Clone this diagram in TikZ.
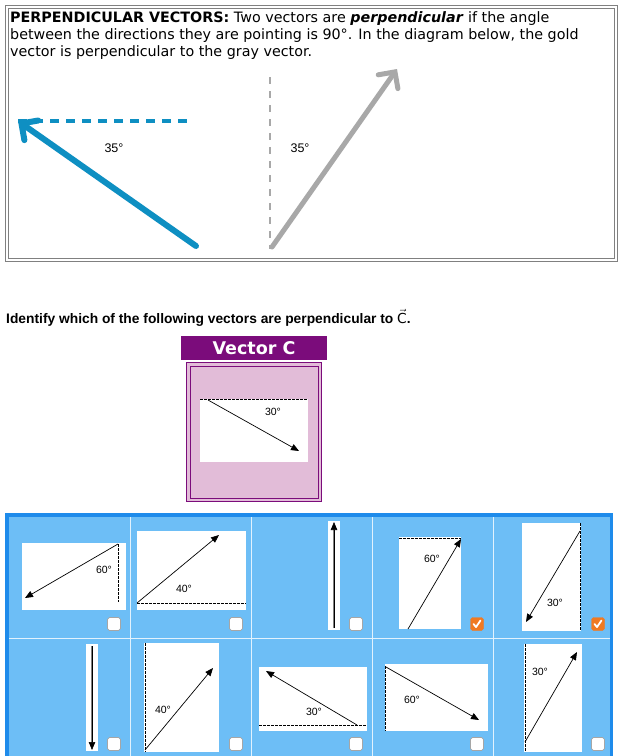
\documentclass[tikz,border=0pt]{standalone}
\usepackage{fontspec}
\setmainfont{DejaVu Sans}
\newfontfamily\arial{Liberation Sans}
\usetikzlibrary{arrows.meta,calc}
\definecolor{vblue}{HTML}{0E8FC2}
\definecolor{vgray}{HTML}{A8A8A8}
\definecolor{vpurple}{HTML}{7B0C7B}
\definecolor{vpink}{HTML}{E2BCD8}
\definecolor{gridfill}{HTML}{6DBEF6}
\definecolor{gridborder}{HTML}{1E8BEB}
\definecolor{chk}{HTML}{F07A22}
\tikzset{
  vec/.style={line width=0.7pt,-{Triangle[length=8pt,width=6.5pt]}},
  guide/.style={line width=0.6pt,dash pattern=on 2.5pt off 1.5pt},
  lab/.style={font=\arial\fontsize{10.5}{12}\selectfont,inner sep=0pt},
  cb/.style={draw=gray!70,fill=white,rounded corners=1.8pt,minimum size=13pt,inner sep=0pt,line width=0.7pt},
  cbon/.style={fill=chk,draw=chk,rounded corners=1.8pt,minimum size=13pt,inner sep=0pt},
}
\newcommand{\chkmark}[1]{\draw[white,line width=1.8pt,line cap=round,line join=round] ($(#1)+(-3.5,0)$) -- ($(#1)+(-1,3)$) -- ($(#1)+(3.5,-3.5)$);}
\begin{document}
\begin{tikzpicture}[x=1pt,y=-1pt]
\useasboundingbox (0,0) rectangle (623,756);
\fill[white] (0,0) rectangle (623,756);
% top box
\draw[gray,line width=0.8pt] (5,5) rectangle (617,261);
\draw[gray,line width=0.8pt] (8,8) rectangle (614,258);
\node[anchor=north west,inner sep=0pt,align=left,font=\fontsize{14.3}{17}\selectfont] (intro) at (10,11)
 {\textbf{PERPENDICULAR VECTORS:} Two vectors are \textbf{\textit{perpendicular}} if the angle\\
  between the directions they are pointing is 90°. In the diagram below, the gold\\
  vector is perpendicular to the gray vector.};
\coordinate (bt) at (196,246); \coordinate (bh) at (18,121);
\draw[vblue,line width=3.5pt,dash pattern=on 9pt off 7pt] (bh) -- (188,121);
\draw[vblue,line width=6pt,line cap=round,-{Straight Barb[length=12pt,width=24pt,line cap=round]}] (bt) -- (bh);
\node[lab,font=\arial\fontsize{12.5}{14}\selectfont] (b35) at (114,148) {35°};
\draw[vgray,line width=2.5pt,dash pattern=on 7pt off 7pt] (270,77) -- (270,249);
\draw[vgray,line width=5pt,line cap=round,-{Straight Barb[length=12pt,width=24pt,line cap=round]}] (272,247) -- (397,69);
\node[lab,font=\arial\fontsize{12.5}{14}\selectfont] (g35) at (300,148) {35°};
% question
\node[anchor=west,inner sep=0pt,font=\arial\bfseries\fontsize{13.8}{16}\selectfont] (q) at (6,318)
 {Identify which of the following vectors are perpendicular to $\vec{\mathrm{C}}$.};
% vector C
\fill[vpurple] (181,336) rectangle (327,360);
\node[text=white,font=\bfseries\fontsize{17.5}{20}\selectfont] (vc) at (254,348) {Vector C};
\fill[vpink] (186,362) rectangle (322,502);
\draw[vpurple,line width=1.2pt] (186.6,362.6) rectangle (321.4,501.4);
\draw[vpurple,line width=0.9pt] (190,366) rectangle (318,498);
\fill[white] (200,399) rectangle (308,462);
\draw[guide] (200,399) -- (308,399);
\draw[vec] (208,400) -- (299,451);
\node[lab] (c30) at (273,412) {30°};
% grid
\fill[gridborder] (5,513) rectangle (613,756);
\fill[gridfill] (9,517) rectangle (610,756);
\foreach \x in {130,251,372,493} \draw[white!80!gridfill,line width=1pt] (\x,517) -- (\x,756);
\draw[white!80!gridfill,line width=1pt] (9,638) -- (610,638);
% cell 1
\fill[white] (22,543) rectangle (126,610);
\draw[guide] (118,544) -- (118,602);
\draw[vec] (118,544) -- (25,598);
\node[lab] (l1) at (104,570) {60°};
% cell 2
\fill[white] (137,531) rectangle (246,610);
\draw[guide] (137,603) -- (246,603);
\draw[vec] (137,603) -- (219,535);
\node[lab] (l2) at (184,589) {40°};
% cell 3
\fill[white] (328,521) rectangle (340,630);
\draw[gray,line width=2pt] (334,628) -- (334,528);
\draw[vec,line width=0.6pt] (334,628) -- (334,522);
% cell 4
\fill[white] (399,537) rectangle (461,629);
\draw[guide] (399,538) -- (461,538);
\draw[vec] (408,629) -- (461,539);
\node[lab] (l4) at (432,559) {60°};
% cell 5
\fill[white] (522,523) rectangle (581,631);
\draw[guide] (580,523) -- (580,631);
\draw[vec] (580,531) -- (526,622);
\node[lab] (l5) at (555,603) {30°};
% cell 6
\fill[white] (86,644) rectangle (98,751);
\draw[gray,line width=2pt] (92,646) -- (92,743);
\draw[vec,line width=0.6pt] (92,646) -- (92,750);
% cell 7
\fill[white] (144,643) rectangle (219,752);
\draw[guide] (145,643) -- (145,752);
\draw[vec] (145,750) -- (213,668);
\node[lab] (l7) at (163,710) {40°};
% cell 8
\fill[white] (259,667) rectangle (367,731);
\draw[guide] (259,725) -- (367,725);
\draw[vec] (357,725) -- (266,671);
\node[lab] (l8) at (314,712) {30°};
% cell 9
\fill[white] (385,664) rectangle (488,731);
\draw[guide] (385,666) -- (385,731);
\draw[vec] (386,667) -- (479,720);
\node[lab] (l9) at (412,700) {60°};
% cell 10
\fill[white] (524,644) rectangle (582,752);
\draw[guide] (525,644) -- (525,752);
\draw[vec] (525,742) -- (577,652);
\node[lab] (l10) at (540,672) {30°};
% checkboxes
\node[cb] (k1) at (114,624) {};
\node[cb] (k2) at (236,624) {};
\node[cb] (k3) at (356,624) {};
\node[cbon] (k4) at (477,624) {}; \chkmark{k4}
\node[cbon] (k5) at (598,624) {}; \chkmark{k5}
\node[cb] (k6) at (114,744) {};
\node[cb] (k7) at (236,744) {};
\node[cb] (k8) at (356,744) {};
\node[cb] (k9) at (477,744) {};
\node[cb] (k10) at (598,744) {};
\end{tikzpicture}
\end{document}
